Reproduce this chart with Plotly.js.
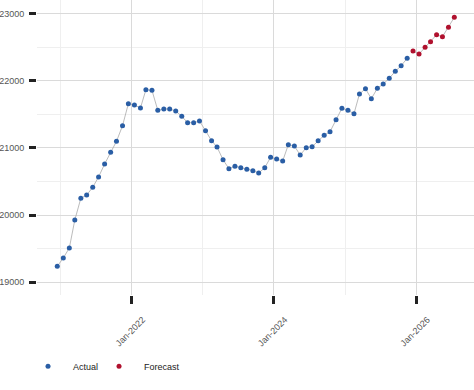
<!DOCTYPE html>
<html>
<head>
<meta charset="utf-8">
<script src="https://cdn.plot.ly/plotly-3.0.1.min.js"></script>
<style>html,body{margin:0;padding:0;background:#fff;}#chart{width:474px;height:390px;}</style>
</head>
<body>
<div id="chart"></div>
<script>
var actualDates = [
  '2020-12-15',
  '2021-01-15','2021-02-15','2021-03-15','2021-04-15','2021-05-15','2021-06-15',
  '2021-07-15','2021-08-15','2021-09-15','2021-10-15','2021-11-15','2021-12-15',
  '2022-01-15','2022-02-15','2022-03-15','2022-04-15','2022-05-15','2022-06-15',
  '2022-07-15','2022-08-15','2022-09-15','2022-10-15','2022-11-15','2022-12-15',
  '2023-01-15','2023-02-15','2023-03-15','2023-04-15','2023-05-15','2023-06-15',
  '2023-07-15','2023-08-15','2023-09-15','2023-10-15','2023-11-15','2023-12-15',
  '2024-01-15','2024-02-15','2024-03-15','2024-04-15','2024-05-15','2024-06-15',
  '2024-07-15','2024-08-15','2024-09-15','2024-10-15','2024-11-15','2024-12-15',
  '2025-01-15','2025-02-15','2025-03-15','2025-04-15','2025-05-15','2025-06-15',
  '2025-07-15','2025-08-15','2025-09-15','2025-10-15','2025-11-15'
];
var actualValues = [
  19238,
  19362,19511,19927,20250,20299,20414,
  20567,20760,20935,21098,21330,21658,
  21638,21594,21866,21857,21560,21579,
  21579,21549,21470,21375,21375,21400,
  21256,21107,21013,20824,20691,20726,
  20705,20682,20661,20627,20705,20860,
  20835,20805,21048,21028,20894,21003,
  21018,21107,21188,21241,21420,21589,
  21560,21509,21802,21881,21732,21887,
  21951,22036,22140,22223,22333
];
var forecastDates = [
  '2025-12-15','2026-01-15','2026-02-15','2026-03-15',
  '2026-04-15','2026-05-15','2026-06-15','2026-07-15'
];
var forecastValues = [22442,22397,22497,22580,22684,22655,22795,22943];

var blue = '#2a5ea5', red = '#b0112e', lineGray = '#aaaaaa';

var traces = [
  {x: actualDates, y: actualValues, type: 'scatter', mode: 'lines',
   line: {color: lineGray, width: 0.8}, showlegend: false, hoverinfo: 'skip'},
  {x: forecastDates, y: forecastValues, type: 'scatter', mode: 'lines',
   line: {color: lineGray, width: 0.8}, showlegend: false, hoverinfo: 'skip'},
  {x: actualDates, y: actualValues, type: 'scatter', mode: 'markers', name: 'Actual',
   marker: {color: blue, size: 5}, legend: 'legend'},
  {x: forecastDates, y: forecastValues, type: 'scatter', mode: 'markers', name: 'Forecast',
   marker: {color: red, size: 5}, legend: 'legend2'}
];

var legendBase = {
  orientation: 'h',
  itemwidth: 40,
  xanchor: 'left',
  yref: 'container', y: 0.098, yanchor: 'top',
  font: {size: 9, color: '#222222'},
  bgcolor: 'rgba(0,0,0,0)'
};

var layout = {
  width: 474, height: 390,
  margin: {l: 37, r: 0, t: 0, b: 95},
  paper_bgcolor: '#ffffff', plot_bgcolor: '#ffffff',
  font: {family: 'Liberation Sans, Arial, sans-serif', size: 9, color: '#555555'},
  xaxis: {
    type: 'date',
    range: ['2020-09-02', '2026-10-24'],
    tick0: '2022-01-01', dtick: 'M24',
    tickformat: '%b-%Y',
    tickangle: -45,
    ticks: 'outside', ticklen: 8, tickwidth: 3, tickcolor: '#222222',
    ticklabelshift: 11, ticklabelstandoff: 7,
    showgrid: true, gridcolor: '#dadada', gridwidth: 1,
    minor: {dtick: 'M12', tick0: '2021-01-01', showgrid: true, gridcolor: '#efefef', gridwidth: 1, ticks: ''},
    zeroline: false, showline: false,
    tickfont: {size: 9, color: '#555555'}
  },
  yaxis: {
    range: [18811, 23201],
    tick0: 19000, dtick: 1000,
    tickformat: 'd',
    ticks: 'outside', ticklen: 7, tickwidth: 3, tickcolor: '#222222',
    ticklabelstandoff: 3,
    showgrid: true, gridcolor: '#dadada', gridwidth: 1,
    minor: {dtick: 500, showgrid: true, gridcolor: '#efefef', gridwidth: 1, ticks: ''},
    zeroline: false, showline: false,
    tickfont: {size: 9, color: '#555555'}
  },
  showlegend: true,
  legend: Object.assign({}, legendBase, {x: -0.032}),
  legend2: Object.assign({}, legendBase, {x: 0.1305})
};

Plotly.newPlot('chart', traces, layout, {displayModeBar: false, staticPlot: true});
</script>
</body>
</html>
